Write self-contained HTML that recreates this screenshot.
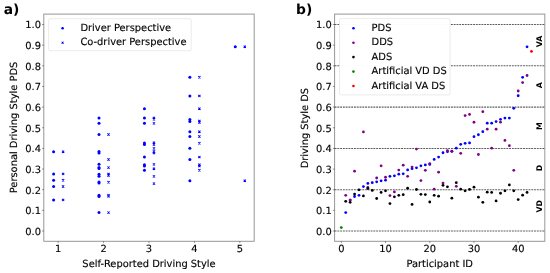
<!DOCTYPE html>
<html lang="en"><head><meta charset="utf-8"><title>Driving style figure</title>
<style>html,body{margin:0;padding:0;background:#fff}body{width:550px;height:273px;overflow:hidden}svg{display:block}text{text-rendering:geometricPrecision;font-family:"DejaVu Sans","Liberation Sans",sans-serif;fill:#000}.t{font-size:9.9px;stroke:#000;stroke-width:.14}.b{font-weight:bold}.fr{fill:none;stroke:#000;stroke-width:1;stroke-opacity:.41}.tk{stroke:#000;stroke-width:1;stroke-opacity:.4}.dl{stroke:#000;stroke-width:1.05;stroke-opacity:.64;stroke-dasharray:1.9 .87}.lg{fill:#fff;fill-opacity:.97;stroke:#ccc;stroke-width:.8;stroke-opacity:.5}.x{stroke:#00f;stroke-width:1.05;fill:none}</style></head><body>
<svg width="550" height="273" viewBox="0 0 550 273">
<rect width="550" height="273" fill="#fff"/>
<line class="tk" x1="42.00" y1="231.00" x2="43.80" y2="231.00"/>
<text class="t" text-anchor="end" x="41.00" y="234.90">0.0</text>
<line class="tk" x1="42.00" y1="210.35" x2="43.80" y2="210.35"/>
<text class="t" text-anchor="end" x="41.00" y="214.25">0.1</text>
<line class="tk" x1="42.00" y1="189.70" x2="43.80" y2="189.70"/>
<text class="t" text-anchor="end" x="41.00" y="193.60">0.2</text>
<line class="tk" x1="42.00" y1="169.05" x2="43.80" y2="169.05"/>
<text class="t" text-anchor="end" x="41.00" y="172.95">0.3</text>
<line class="tk" x1="42.00" y1="148.40" x2="43.80" y2="148.40"/>
<text class="t" text-anchor="end" x="41.00" y="152.30">0.4</text>
<line class="tk" x1="42.00" y1="127.75" x2="43.80" y2="127.75"/>
<text class="t" text-anchor="end" x="41.00" y="131.65">0.5</text>
<line class="tk" x1="42.00" y1="107.10" x2="43.80" y2="107.10"/>
<text class="t" text-anchor="end" x="41.00" y="111.00">0.6</text>
<line class="tk" x1="42.00" y1="86.45" x2="43.80" y2="86.45"/>
<text class="t" text-anchor="end" x="41.00" y="90.35">0.7</text>
<line class="tk" x1="42.00" y1="65.80" x2="43.80" y2="65.80"/>
<text class="t" text-anchor="end" x="41.00" y="69.70">0.8</text>
<line class="tk" x1="42.00" y1="45.15" x2="43.80" y2="45.15"/>
<text class="t" text-anchor="end" x="41.00" y="49.05">0.9</text>
<line class="tk" x1="42.00" y1="24.50" x2="43.80" y2="24.50"/>
<text class="t" text-anchor="end" x="41.00" y="28.40">1.0</text>
<line class="tk" x1="58.15" y1="241.30" x2="58.15" y2="243.10"/>
<text class="t" text-anchor="middle" x="58.15" y="251.8">1</text>
<line class="tk" x1="103.57" y1="241.30" x2="103.57" y2="243.10"/>
<text class="t" text-anchor="middle" x="103.57" y="251.8">2</text>
<line class="tk" x1="148.99" y1="241.30" x2="148.99" y2="243.10"/>
<text class="t" text-anchor="middle" x="148.99" y="251.8">3</text>
<line class="tk" x1="194.41" y1="241.30" x2="194.41" y2="243.10"/>
<text class="t" text-anchor="middle" x="194.41" y="251.8">4</text>
<line class="tk" x1="239.83" y1="241.30" x2="239.83" y2="243.10"/>
<text class="t" text-anchor="middle" x="239.83" y="251.8">5</text>
<text class="t" text-anchor="middle" x="149.00" y="267.4">Self-Reported Driving Style</text>
<text class="t" text-anchor="middle" transform="translate(16.9 127.50) rotate(-90)">Personal Driving Style PDS</text>
<circle cx="53.60" cy="151.70" r="1.50" fill="#00f"/>
<circle cx="53.60" cy="173.90" r="1.50" fill="#00f"/>
<circle cx="53.60" cy="180.30" r="1.50" fill="#00f"/>
<circle cx="53.60" cy="186.50" r="1.50" fill="#00f"/>
<circle cx="53.60" cy="199.90" r="1.50" fill="#00f"/>
<circle cx="99.02" cy="118.10" r="1.50" fill="#00f"/>
<circle cx="99.02" cy="123.30" r="1.50" fill="#00f"/>
<circle cx="99.02" cy="134.50" r="1.50" fill="#00f"/>
<circle cx="99.02" cy="151.50" r="1.50" fill="#00f"/>
<circle cx="99.02" cy="152.90" r="1.50" fill="#00f"/>
<circle cx="99.02" cy="164.20" r="1.50" fill="#00f"/>
<circle cx="99.02" cy="167.50" r="1.50" fill="#00f"/>
<circle cx="99.02" cy="168.50" r="1.50" fill="#00f"/>
<circle cx="99.02" cy="174.30" r="1.50" fill="#00f"/>
<circle cx="99.02" cy="176.20" r="1.50" fill="#00f"/>
<circle cx="99.02" cy="182.10" r="1.50" fill="#00f"/>
<circle cx="99.02" cy="183.10" r="1.50" fill="#00f"/>
<circle cx="99.02" cy="195.20" r="1.50" fill="#00f"/>
<circle cx="99.02" cy="196.40" r="1.50" fill="#00f"/>
<circle cx="99.02" cy="212.60" r="1.50" fill="#00f"/>
<circle cx="144.44" cy="108.70" r="1.50" fill="#00f"/>
<circle cx="144.44" cy="117.90" r="1.50" fill="#00f"/>
<circle cx="144.44" cy="123.30" r="1.50" fill="#00f"/>
<circle cx="144.44" cy="143.00" r="1.50" fill="#00f"/>
<circle cx="144.44" cy="144.50" r="1.50" fill="#00f"/>
<circle cx="144.44" cy="157.10" r="1.50" fill="#00f"/>
<circle cx="144.44" cy="164.70" r="1.50" fill="#00f"/>
<circle cx="144.44" cy="166.10" r="1.50" fill="#00f"/>
<circle cx="144.44" cy="170.30" r="1.50" fill="#00f"/>
<circle cx="189.86" cy="77.30" r="1.50" fill="#00f"/>
<circle cx="189.86" cy="95.90" r="1.50" fill="#00f"/>
<circle cx="189.86" cy="119.50" r="1.50" fill="#00f"/>
<circle cx="189.86" cy="121.50" r="1.50" fill="#00f"/>
<circle cx="189.86" cy="131.80" r="1.50" fill="#00f"/>
<circle cx="189.86" cy="136.50" r="1.50" fill="#00f"/>
<circle cx="189.86" cy="148.20" r="1.50" fill="#00f"/>
<circle cx="189.86" cy="159.40" r="1.50" fill="#00f"/>
<circle cx="189.86" cy="180.80" r="1.50" fill="#00f"/>
<circle cx="235.28" cy="46.80" r="1.50" fill="#00f"/>
<path class="x" d="M62.00 150.60l2.20 2.20M62.00 152.80l2.20 -2.20"/>
<path class="x" d="M62.00 172.80l2.20 2.20M62.00 175.00l2.20 -2.20"/>
<path class="x" d="M62.00 179.20l2.20 2.20M62.00 181.40l2.20 -2.20"/>
<path class="x" d="M62.00 185.40l2.20 2.20M62.00 187.60l2.20 -2.20"/>
<path class="x" d="M62.00 198.80l2.20 2.20M62.00 201.00l2.20 -2.20"/>
<path class="x" d="M107.42 133.40l2.20 2.20M107.42 135.60l2.20 -2.20"/>
<path class="x" d="M107.42 158.40l2.20 2.20M107.42 160.60l2.20 -2.20"/>
<path class="x" d="M107.42 166.50l2.20 2.20M107.42 168.70l2.20 -2.20"/>
<path class="x" d="M107.42 172.90l2.20 2.20M107.42 175.10l2.20 -2.20"/>
<path class="x" d="M107.42 174.50l2.20 2.20M107.42 176.70l2.20 -2.20"/>
<path class="x" d="M107.42 181.20l2.20 2.20M107.42 183.40l2.20 -2.20"/>
<path class="x" d="M107.42 194.10l2.20 2.20M107.42 196.30l2.20 -2.20"/>
<path class="x" d="M107.42 195.30l2.20 2.20M107.42 197.50l2.20 -2.20"/>
<path class="x" d="M107.42 211.50l2.20 2.20M107.42 213.70l2.20 -2.20"/>
<path class="x" d="M152.84 116.80l2.20 2.20M152.84 119.00l2.20 -2.20"/>
<path class="x" d="M152.84 118.10l2.20 2.20M152.84 120.30l2.20 -2.20"/>
<path class="x" d="M152.84 122.30l2.20 2.20M152.84 124.50l2.20 -2.20"/>
<path class="x" d="M152.84 141.70l2.20 2.20M152.84 143.90l2.20 -2.20"/>
<path class="x" d="M152.84 143.50l2.20 2.20M152.84 145.70l2.20 -2.20"/>
<path class="x" d="M152.84 147.30l2.20 2.20M152.84 149.50l2.20 -2.20"/>
<path class="x" d="M152.84 150.40l2.20 2.20M152.84 152.60l2.20 -2.20"/>
<path class="x" d="M152.84 151.90l2.20 2.20M152.84 154.10l2.20 -2.20"/>
<path class="x" d="M152.84 163.30l2.20 2.20M152.84 165.50l2.20 -2.20"/>
<path class="x" d="M152.84 167.60l2.20 2.20M152.84 169.80l2.20 -2.20"/>
<path class="x" d="M152.84 175.30l2.20 2.20M152.84 177.50l2.20 -2.20"/>
<path class="x" d="M152.84 182.50l2.20 2.20M152.84 184.70l2.20 -2.20"/>
<path class="x" d="M198.26 76.20l2.20 2.20M198.26 78.40l2.20 -2.20"/>
<path class="x" d="M198.26 94.80l2.20 2.20M198.26 97.00l2.20 -2.20"/>
<path class="x" d="M198.26 107.60l2.20 2.20M198.26 109.80l2.20 -2.20"/>
<path class="x" d="M198.26 119.90l2.20 2.20M198.26 122.10l2.20 -2.20"/>
<path class="x" d="M198.26 121.50l2.20 2.20M198.26 123.70l2.20 -2.20"/>
<path class="x" d="M198.26 130.70l2.20 2.20M198.26 132.90l2.20 -2.20"/>
<path class="x" d="M198.26 135.40l2.20 2.20M198.26 137.60l2.20 -2.20"/>
<path class="x" d="M198.26 142.20l2.20 2.20M198.26 144.40l2.20 -2.20"/>
<path class="x" d="M198.26 156.00l2.20 2.20M198.26 158.20l2.20 -2.20"/>
<path class="x" d="M198.26 163.60l2.20 2.20M198.26 165.80l2.20 -2.20"/>
<path class="x" d="M198.26 165.00l2.20 2.20M198.26 167.20l2.20 -2.20"/>
<path class="x" d="M198.26 169.20l2.20 2.20M198.26 171.40l2.20 -2.20"/>
<path class="x" d="M243.68 45.70l2.20 2.20M243.68 47.90l2.20 -2.20"/>
<path class="x" d="M243.68 179.60l2.20 2.20M243.68 181.80l2.20 -2.20"/>
<rect class="lg" x="48.7" y="18.7" width="142.5" height="32" rx="1.6"/>
<circle cx="62.6" cy="28.2" r="1.3" fill="#00f"/>
<path class="x" d="M61.65 41.75l1.90 1.90M61.65 43.65l1.90 -1.90"/>
<text class="t" x="80.4" y="30.8">Driver Perspective</text>
<text class="t" x="80.4" y="45.2">Co-driver Perspective</text>
<rect class="fr" x="43.80" y="14.10" width="210.40" height="227.20"/>
<text class="b" font-size="13.8" x="3.7" y="14.2">a)</text>
<line class="tk" x1="332.80" y1="231.00" x2="334.60" y2="231.00"/>
<text class="t" text-anchor="end" x="331.80" y="234.90">0.0</text>
<line class="tk" x1="332.80" y1="210.35" x2="334.60" y2="210.35"/>
<text class="t" text-anchor="end" x="331.80" y="214.25">0.1</text>
<line class="tk" x1="332.80" y1="189.70" x2="334.60" y2="189.70"/>
<text class="t" text-anchor="end" x="331.80" y="193.60">0.2</text>
<line class="tk" x1="332.80" y1="169.05" x2="334.60" y2="169.05"/>
<text class="t" text-anchor="end" x="331.80" y="172.95">0.3</text>
<line class="tk" x1="332.80" y1="148.40" x2="334.60" y2="148.40"/>
<text class="t" text-anchor="end" x="331.80" y="152.30">0.4</text>
<line class="tk" x1="332.80" y1="127.75" x2="334.60" y2="127.75"/>
<text class="t" text-anchor="end" x="331.80" y="131.65">0.5</text>
<line class="tk" x1="332.80" y1="107.10" x2="334.60" y2="107.10"/>
<text class="t" text-anchor="end" x="331.80" y="111.00">0.6</text>
<line class="tk" x1="332.80" y1="86.45" x2="334.60" y2="86.45"/>
<text class="t" text-anchor="end" x="331.80" y="90.35">0.7</text>
<line class="tk" x1="332.80" y1="65.80" x2="334.60" y2="65.80"/>
<text class="t" text-anchor="end" x="331.80" y="69.70">0.8</text>
<line class="tk" x1="332.80" y1="45.15" x2="334.60" y2="45.15"/>
<text class="t" text-anchor="end" x="331.80" y="49.05">0.9</text>
<line class="tk" x1="332.80" y1="24.50" x2="334.60" y2="24.50"/>
<text class="t" text-anchor="end" x="331.80" y="28.40">1.0</text>
<line class="tk" x1="341.30" y1="241.30" x2="341.30" y2="243.10"/>
<text class="t" text-anchor="middle" x="341.30" y="251.8">0</text>
<line class="tk" x1="385.53" y1="241.30" x2="385.53" y2="243.10"/>
<text class="t" text-anchor="middle" x="385.53" y="251.8">10</text>
<line class="tk" x1="429.75" y1="241.30" x2="429.75" y2="243.10"/>
<text class="t" text-anchor="middle" x="429.75" y="251.8">20</text>
<line class="tk" x1="473.98" y1="241.30" x2="473.98" y2="243.10"/>
<text class="t" text-anchor="middle" x="473.98" y="251.8">30</text>
<line class="tk" x1="518.20" y1="241.30" x2="518.20" y2="243.10"/>
<text class="t" text-anchor="middle" x="518.20" y="251.8">40</text>
<text class="t" text-anchor="middle" x="439.70" y="267.4">Participant ID</text>
<text class="t" text-anchor="middle" transform="translate(307.8 128.10) rotate(-90)">Driving Style DS</text>
<line class="dl" x1="334.60" y1="231.00" x2="544.80" y2="231.00"/>
<line class="dl" x1="334.60" y1="189.70" x2="544.80" y2="189.70"/>
<line class="dl" x1="334.60" y1="148.40" x2="544.80" y2="148.40"/>
<line class="dl" x1="334.60" y1="107.10" x2="544.80" y2="107.10"/>
<line class="dl" x1="334.60" y1="65.80" x2="544.80" y2="65.80"/>
<line class="dl" x1="334.60" y1="24.50" x2="544.80" y2="24.50"/>
<circle cx="345.72" cy="212.62" r="1.40" fill="#00f"/>
<circle cx="350.15" cy="200.03" r="1.40" fill="#00f"/>
<circle cx="354.57" cy="196.51" r="1.40" fill="#00f"/>
<circle cx="358.99" cy="195.28" r="1.40" fill="#00f"/>
<circle cx="363.41" cy="186.60" r="1.40" fill="#00f"/>
<circle cx="367.84" cy="183.38" r="1.40" fill="#00f"/>
<circle cx="372.26" cy="182.68" r="1.40" fill="#00f"/>
<circle cx="376.68" cy="181.85" r="1.40" fill="#00f"/>
<circle cx="381.10" cy="180.82" r="1.40" fill="#00f"/>
<circle cx="385.53" cy="180.20" r="1.40" fill="#00f"/>
<circle cx="389.95" cy="176.28" r="1.40" fill="#00f"/>
<circle cx="394.37" cy="175.86" r="1.40" fill="#00f"/>
<circle cx="398.79" cy="174.21" r="1.40" fill="#00f"/>
<circle cx="403.22" cy="173.80" r="1.40" fill="#00f"/>
<circle cx="407.64" cy="169.88" r="1.40" fill="#00f"/>
<circle cx="412.06" cy="168.64" r="1.40" fill="#00f"/>
<circle cx="416.48" cy="167.81" r="1.40" fill="#00f"/>
<circle cx="420.91" cy="165.81" r="1.40" fill="#00f"/>
<circle cx="425.33" cy="164.92" r="1.40" fill="#00f"/>
<circle cx="429.75" cy="164.40" r="1.40" fill="#00f"/>
<circle cx="434.17" cy="159.41" r="1.40" fill="#00f"/>
<circle cx="438.60" cy="157.07" r="1.40" fill="#00f"/>
<circle cx="443.02" cy="152.74" r="1.40" fill="#00f"/>
<circle cx="447.44" cy="151.70" r="1.40" fill="#00f"/>
<circle cx="451.86" cy="151.25" r="1.40" fill="#00f"/>
<circle cx="456.29" cy="148.19" r="1.40" fill="#00f"/>
<circle cx="460.71" cy="144.37" r="1.40" fill="#00f"/>
<circle cx="465.13" cy="143.32" r="1.40" fill="#00f"/>
<circle cx="469.55" cy="142.95" r="1.40" fill="#00f"/>
<circle cx="473.98" cy="136.63" r="1.40" fill="#00f"/>
<circle cx="478.40" cy="134.77" r="1.40" fill="#00f"/>
<circle cx="482.82" cy="131.67" r="1.40" fill="#00f"/>
<circle cx="487.24" cy="123.21" r="1.40" fill="#00f"/>
<circle cx="491.67" cy="123.21" r="1.40" fill="#00f"/>
<circle cx="496.09" cy="121.55" r="1.40" fill="#00f"/>
<circle cx="500.51" cy="119.28" r="1.40" fill="#00f"/>
<circle cx="504.93" cy="118.04" r="1.40" fill="#00f"/>
<circle cx="509.36" cy="118.04" r="1.40" fill="#00f"/>
<circle cx="513.78" cy="108.34" r="1.40" fill="#00f"/>
<circle cx="518.20" cy="95.74" r="1.40" fill="#00f"/>
<circle cx="522.62" cy="77.36" r="1.40" fill="#00f"/>
<circle cx="527.05" cy="46.80" r="1.40" fill="#00f"/>
<circle cx="345.72" cy="195.28" r="1.40" fill="#800080"/>
<circle cx="350.15" cy="200.03" r="1.40" fill="#800080"/>
<circle cx="354.57" cy="171.20" r="1.40" fill="#800080"/>
<circle cx="363.41" cy="131.88" r="1.40" fill="#800080"/>
<circle cx="367.84" cy="187.49" r="1.40" fill="#800080"/>
<circle cx="376.68" cy="177.99" r="1.40" fill="#800080"/>
<circle cx="381.10" cy="165.79" r="1.40" fill="#800080"/>
<circle cx="385.53" cy="177.23" r="1.40" fill="#800080"/>
<circle cx="389.95" cy="195.56" r="1.40" fill="#800080"/>
<circle cx="394.37" cy="191.97" r="1.40" fill="#800080"/>
<circle cx="398.79" cy="170.08" r="1.40" fill="#800080"/>
<circle cx="403.22" cy="165.13" r="1.40" fill="#800080"/>
<circle cx="407.64" cy="176.32" r="1.40" fill="#800080"/>
<circle cx="412.06" cy="167.05" r="1.40" fill="#800080"/>
<circle cx="416.48" cy="149.10" r="1.40" fill="#800080"/>
<circle cx="420.91" cy="180.61" r="1.40" fill="#800080"/>
<circle cx="425.33" cy="170.29" r="1.40" fill="#800080"/>
<circle cx="429.75" cy="163.60" r="1.40" fill="#800080"/>
<circle cx="434.17" cy="189.16" r="1.40" fill="#800080"/>
<circle cx="438.60" cy="172.15" r="1.40" fill="#800080"/>
<circle cx="443.02" cy="183.09" r="1.40" fill="#800080"/>
<circle cx="447.44" cy="150.67" r="1.40" fill="#800080"/>
<circle cx="451.86" cy="151.29" r="1.40" fill="#800080"/>
<circle cx="456.29" cy="186.31" r="1.40" fill="#800080"/>
<circle cx="460.71" cy="153.36" r="1.40" fill="#800080"/>
<circle cx="465.13" cy="115.57" r="1.40" fill="#800080"/>
<circle cx="469.55" cy="114.43" r="1.40" fill="#800080"/>
<circle cx="473.98" cy="122.26" r="1.40" fill="#800080"/>
<circle cx="478.40" cy="154.49" r="1.40" fill="#800080"/>
<circle cx="482.82" cy="111.64" r="1.40" fill="#800080"/>
<circle cx="487.24" cy="129.20" r="1.40" fill="#800080"/>
<circle cx="491.67" cy="148.19" r="1.40" fill="#800080"/>
<circle cx="496.09" cy="129.20" r="1.40" fill="#800080"/>
<circle cx="500.51" cy="122.17" r="1.40" fill="#800080"/>
<circle cx="504.93" cy="140.39" r="1.40" fill="#800080"/>
<circle cx="509.36" cy="145.63" r="1.40" fill="#800080"/>
<circle cx="513.78" cy="170.29" r="1.40" fill="#800080"/>
<circle cx="518.20" cy="90.99" r="1.40" fill="#800080"/>
<circle cx="522.62" cy="82.61" r="1.40" fill="#800080"/>
<circle cx="527.05" cy="75.51" r="1.40" fill="#800080"/>
<circle cx="345.72" cy="201.33" r="1.40" fill="#000"/>
<circle cx="350.15" cy="202.30" r="1.40" fill="#000"/>
<circle cx="354.57" cy="194.04" r="1.40" fill="#000"/>
<circle cx="358.99" cy="189.80" r="1.40" fill="#000"/>
<circle cx="363.41" cy="195.89" r="1.40" fill="#000"/>
<circle cx="367.84" cy="188.50" r="1.40" fill="#000"/>
<circle cx="372.26" cy="190.42" r="1.40" fill="#000"/>
<circle cx="376.68" cy="198.50" r="1.40" fill="#000"/>
<circle cx="381.10" cy="192.38" r="1.40" fill="#000"/>
<circle cx="385.53" cy="190.82" r="1.40" fill="#000"/>
<circle cx="389.95" cy="203.54" r="1.40" fill="#000"/>
<circle cx="394.37" cy="196.84" r="1.40" fill="#000"/>
<circle cx="398.79" cy="195.28" r="1.40" fill="#000"/>
<circle cx="403.22" cy="194.66" r="1.40" fill="#000"/>
<circle cx="407.64" cy="188.25" r="1.40" fill="#000"/>
<circle cx="412.06" cy="204.40" r="1.40" fill="#000"/>
<circle cx="416.48" cy="189.49" r="1.40" fill="#000"/>
<circle cx="420.91" cy="194.28" r="1.40" fill="#000"/>
<circle cx="425.33" cy="194.55" r="1.40" fill="#000"/>
<circle cx="429.75" cy="201.99" r="1.40" fill="#000"/>
<circle cx="434.17" cy="195.28" r="1.40" fill="#000"/>
<circle cx="438.60" cy="196.20" r="1.40" fill="#000"/>
<circle cx="443.02" cy="185.30" r="1.40" fill="#000"/>
<circle cx="447.44" cy="186.81" r="1.40" fill="#000"/>
<circle cx="451.86" cy="198.17" r="1.40" fill="#000"/>
<circle cx="456.29" cy="182.68" r="1.40" fill="#000"/>
<circle cx="460.71" cy="189.16" r="1.40" fill="#000"/>
<circle cx="465.13" cy="190.82" r="1.40" fill="#000"/>
<circle cx="469.55" cy="189.41" r="1.40" fill="#000"/>
<circle cx="473.98" cy="187.22" r="1.40" fill="#000"/>
<circle cx="478.40" cy="197.22" r="1.40" fill="#000"/>
<circle cx="482.82" cy="202.36" r="1.40" fill="#000"/>
<circle cx="487.24" cy="192.18" r="1.40" fill="#000"/>
<circle cx="491.67" cy="192.38" r="1.40" fill="#000"/>
<circle cx="496.09" cy="200.93" r="1.40" fill="#000"/>
<circle cx="500.51" cy="193.27" r="1.40" fill="#000"/>
<circle cx="504.93" cy="190.82" r="1.40" fill="#000"/>
<circle cx="509.36" cy="184.95" r="1.40" fill="#000"/>
<circle cx="513.78" cy="190.82" r="1.40" fill="#000"/>
<circle cx="518.20" cy="199.61" r="1.40" fill="#000"/>
<circle cx="522.62" cy="195.17" r="1.40" fill="#000"/>
<circle cx="527.05" cy="192.38" r="1.40" fill="#000"/>
<circle cx="341.30" cy="227.6" r="1.40" fill="#008000"/>
<circle cx="531.47" cy="51.4" r="1.40" fill="#f00"/>
<text class="b" font-size="7.8" text-anchor="middle" transform="translate(541.6 41.40) rotate(-90)">VA</text>
<text class="b" font-size="7.8" text-anchor="middle" transform="translate(541.6 85.20) rotate(-90)">A</text>
<text class="b" font-size="7.8" text-anchor="middle" transform="translate(541.6 126.20) rotate(-90)">M</text>
<text class="b" font-size="7.8" text-anchor="middle" transform="translate(541.6 168.10) rotate(-90)">D</text>
<text class="b" font-size="7.8" text-anchor="middle" transform="translate(541.6 206.30) rotate(-90)">VD</text>
<rect class="lg" x="339.5" y="18.6" width="110.6" height="76.3" rx="1.6"/>
<circle cx="353.45" cy="28.30" r="1.3" fill="#00f"/>
<text class="t" x="371.6" y="31.00">PDS</text>
<circle cx="353.45" cy="42.70" r="1.3" fill="#800080"/>
<text class="t" x="371.6" y="45.40">DDS</text>
<circle cx="353.45" cy="57.10" r="1.3" fill="#000"/>
<text class="t" x="371.6" y="59.80">ADS</text>
<circle cx="353.45" cy="71.60" r="1.3" fill="#008000"/>
<text class="t" x="371.6" y="74.30">Artificial VD DS</text>
<circle cx="353.45" cy="86.00" r="1.3" fill="#f00"/>
<text class="t" x="371.6" y="88.70">Artificial VA DS</text>
<rect class="fr" x="334.60" y="14.10" width="210.20" height="227.20"/>
<text class="b" font-size="13.8" x="296" y="14.2">b)</text>
</svg></body></html>
